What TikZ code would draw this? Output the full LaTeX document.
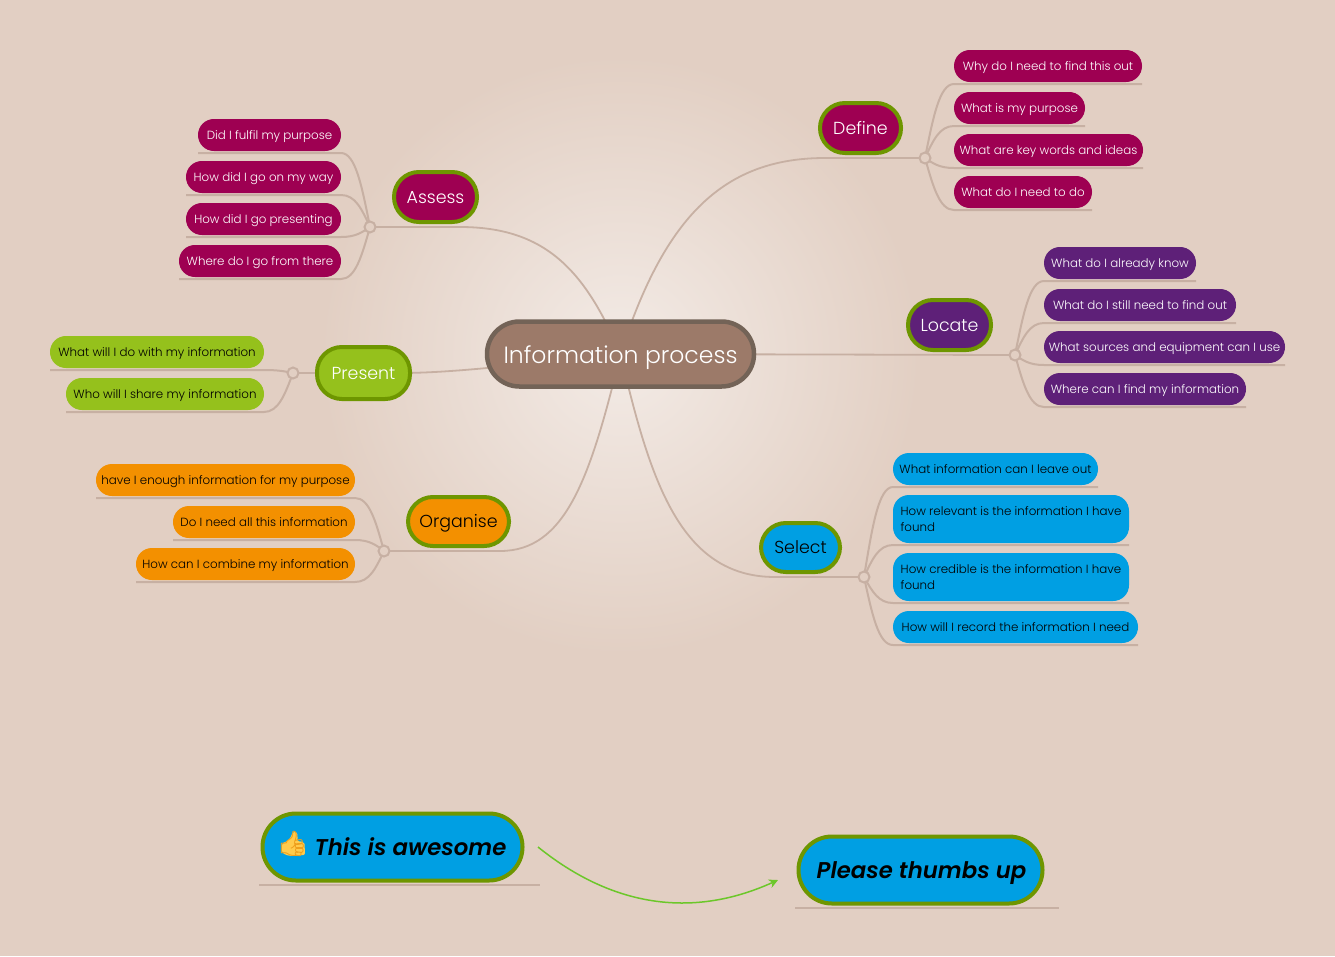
\documentclass[tikz,border=0pt]{standalone}
\usepackage{fontspec}
\setmainfont{Poppins}[UprightFont=*-Light,BoldFont=*-SemiBold,ItalicFont=*-LightItalic,BoldItalicFont=*-SemiBoldItalic]
\newfontfamily\emojifont{Noto Emoji}
\usetikzlibrary{backgrounds,arrows.meta,calc}
\definecolor{bgc}{HTML}{E2CFC3}
\definecolor{glow}{HTML}{F3EBE6}
\definecolor{wire}{HTML}{C7B0A3}
\definecolor{crim}{HTML}{9E0052}
\definecolor{purp}{HTML}{5E2078}
\definecolor{blu}{HTML}{009FE3}
\definecolor{grn}{HTML}{95C11C}
\definecolor{org}{HTML}{F39000}
\definecolor{ctr}{HTML}{9C7A69}
\definecolor{ctrb}{HTML}{736357}
\definecolor{olive}{HTML}{6E9600}
\definecolor{arrowg}{HTML}{6CC72A}
\definecolor{thumb}{HTML}{FFCB4C}
\definecolor{thumbline}{HTML}{EE9F1C}
\tikzset{
  x=1pt,y=-1pt,
  leafbox/.style={rectangle,rounded corners=15.9pt,outer sep=0pt,inner sep=0pt,font=\fontsize{11.85}{16}\selectfont,align=left,text height=9.4pt,text depth=0pt},
  multi/.style={text height=,text depth=},
  mainbox/.style={rectangle,rounded corners=24.9pt,outer sep=0pt,inner sep=0pt,draw=olive,line width=4pt,font=\fontsize{17.4}{22}\selectfont,text height=12.5pt,text depth=0pt},
  bigbox/.style={rectangle,rounded corners=33.4pt,draw=olive,line width=4pt,fill=blu,text=black,outer sep=0pt,inner sep=0pt,minimum height=67pt,font=\fontsize{22.8}{30}\selectfont\bfseries\itshape,text height=17pt,text depth=0pt},
  junction/.style={circle,draw=wire,fill=bgc,line width=2pt,minimum size=11pt,inner sep=0pt,outer sep=0pt},
  wireline/.style={draw=wire,line width=2pt},
  hubwire/.style={draw=wire,line width=1.8pt}
}
% name x1 y1 x2 y2 fill textcolour text
\newcommand{\leafnode}[8]{%
  \pgfmathsetmacro{\bw}{#4-#2}\pgfmathsetmacro{\bh}{#5-#3}%
  \node[leafbox,fill=#6,text=#7,minimum width=\bw pt,minimum height=\bh pt] (#1) at ({(#2+#4)/2},{(#3+#5)/2}) {#8};
  \coordinate (#1-a) at (#2,#5+2);
  \coordinate (#1-b) at (#4,#5+2);}
\newcommand{\mainnode}[8]{%
  \pgfmathsetmacro{\bw}{#4-#2}\pgfmathsetmacro{\bh}{#5-#3}%
  \node[mainbox,fill=#6,text=#7,minimum width=\bw pt,minimum height=\bh pt] (#1) at ({(#2+#4)/2},{(#3+#5)/2}) {#8};}
% junction, leaf end near, leaf end far
\newcommand{\twig}[3]{%
  \draw[wireline] let \p1=(#1.center),\p2=(#2) in
    (#1.center) .. controls ({\x1+0.28*(\x2-\x1)},{\y1+0.55*(\y2-\y1)}) and ({\x1+0.5*(\x2-\x1)},\y2) .. (#2) -- (#3);}
\begin{document}
\begin{tikzpicture}
\useasboundingbox (0,0) rectangle (1335,956);
% leaves
\leafnode{d1}{954}{50}{1142}{82}{crim}{white}{Why do I need to find this out}
\leafnode{d2}{954}{92}{1085}{124}{crim}{white}{What is my purpose}
\leafnode{d3}{954}{134}{1143}{166}{crim}{white}{What are key words and ideas}
\leafnode{d4}{954}{176}{1092}{208}{crim}{white}{What do I need to do}
\leafnode{l1}{1044}{247}{1196}{279}{purp}{white}{What do I already know}
\leafnode{l2}{1044}{289}{1236}{321}{purp}{white}{What do I still need to find out}
\leafnode{l3}{1044}{331}{1285}{363}{purp}{white}{What sources and equipment can I use}
\leafnode{l4}{1044}{373}{1246}{405}{purp}{white}{Where can I find my information}
\leafnode{s1}{893}{453}{1098}{485}{blu}{black}{What information can I leave out}
\leafnode{s2}{893}{495}{1129}{543}{blu}{black,multi}{How relevant is the information I have\\found}
\leafnode{s3}{893}{553}{1129}{601}{blu}{black,multi}{How credible is the information I have\\found}
\leafnode{s4}{893}{611}{1138}{643}{blu}{black}{How will I record the information I need}
\leafnode{a1}{198}{119}{341}{151}{crim}{white}{Did I fulfil my purpose}
\leafnode{a2}{186}{161}{341}{193}{crim}{white}{How did I go on my way}
\leafnode{a3}{186}{203}{341}{235}{crim}{white}{How did I go presenting}
\leafnode{a4}{179}{245}{341}{277}{crim}{white}{Where do I go from there}
\leafnode{p1}{50}{336}{264}{368}{grn}{black}{What will I do with my information}
\leafnode{p2}{66}{378}{264}{410}{grn}{black}{Who will I share my information}
\leafnode{o1}{96}{464}{355}{496}{org}{black}{have I enough information for my purpose}
\leafnode{o2}{173}{506}{355}{538}{org}{black}{Do I need all this information}
\leafnode{o3}{136}{548}{355}{580}{org}{black}{How can I combine my information}
% main topics
\mainnode{define}{820}{103}{901}{153}{crim}{white}{Define}
\mainnode{assess}{394}{172}{477}{222}{crim}{white}{Assess}
\mainnode{locate}{908}{300}{991}{350}{purp}{white}{Locate}
\mainnode{present}{317}{347}{410}{399}{grn}{white}{Present}
\mainnode{organise}{408}{497}{509}{546}{org}{black}{Organise}
\mainnode{select}{761}{523}{840}{572}{blu}{black}{Select}
\node[rectangle,rounded corners=32.4pt,draw=ctrb,line width=4.5pt,fill=ctr,text=white,outer sep=0pt,inner sep=0pt,minimum width=267pt,minimum height=65pt,font=\fontsize{23.5}{28}\selectfont,text height=18pt,text depth=0pt] (center) at (620.5,354) {Information process};
% junctions
\node[junction] (jd) at (925,158) {};
\node[junction] (jl) at (1015,355) {};
\node[junction] (js) at (864,577) {};
\node[junction] (ja) at (370,227) {};
\node[junction] (jp) at (293,373) {};
\node[junction] (jo) at (384,551) {};
% bottom pair
\node[bigbox,minimum width=260pt] (awesome) at (392.5,847) {\hspace{36pt}This is awesome\hspace{4pt}};
\fill[thumb,rounded corners=2pt] (282,843) -- (288,841) -- (292,835) -- (292.5,832) -- (296,831) -- (298,836) -- (297,841) -- (304.5,842) -- (305,855) -- (289,856) -- (282,853) -- cycle;
\node[font=\emojifont\fontsize{25}{30}\selectfont,text=thumbline,inner sep=0pt] (thumbicon) at (292.5,843.5) {\symbol{"1F44D}};
\node[bigbox,minimum width=244pt] (thumbs) at (920.5,870) {\hspace{2pt}Please thumbs up};
\coordinate (arrS) at (538,847);
\coordinate (arrE) at (778,880);
\coordinate (ua-a) at (259,885);
\coordinate (ua-b) at (540,885);
\coordinate (ut-a) at (795,908);
\coordinate (ut-b) at (1059,908);
\begin{scope}[on background layer]
  \fill[bgc] (0,0) rectangle (1335,956);
  \shade[inner color=glow,outer color=bgc] (620,355) circle (300);
  % hub wires
  \draw[hubwire] (center.center) .. controls (665,215) and (725,158) .. (825,158) -- (jd.center);
  \draw[hubwire] (center.center) -- (1015,355) -- (jl.center);
  \draw[hubwire] (center.center) .. controls (650,480) and (680,577) .. (775,577) -- (js.center);
  \draw[hubwire] (center.center) .. controls (585,270) and (545,227) .. (460,227) -- (ja.center);
  \draw[hubwire] (center.center) .. controls (540,362) and (460,373) .. (400,373) -- (jp.center);
  \draw[hubwire] (center.center) .. controls (590,480) and (565,551) .. (500,551) -- (jo.center);
  % twigs
  \twig{jd}{d1-a}{d1-b}\twig{jd}{d2-a}{d2-b}\twig{jd}{d3-a}{d3-b}\twig{jd}{d4-a}{d4-b}
  \twig{jl}{l1-a}{l1-b}\twig{jl}{l2-a}{l2-b}\twig{jl}{l3-a}{l3-b}\twig{jl}{l4-a}{l4-b}
  \twig{js}{s1-a}{s1-b}\twig{js}{s2-a}{s2-b}\twig{js}{s3-a}{s3-b}\twig{js}{s4-a}{s4-b}
  \twig{ja}{a1-b}{a1-a}\twig{ja}{a2-b}{a2-a}\twig{ja}{a3-b}{a3-a}\twig{ja}{a4-b}{a4-a}
  \twig{jp}{p1-b}{p1-a}\twig{jp}{p2-b}{p2-a}
  \twig{jo}{o1-b}{o1-a}\twig{jo}{o2-b}{o2-a}\twig{jo}{o3-b}{o3-a}
  \draw[wireline] (ua-a) -- (ua-b);
  \draw[wireline] (ut-a) -- (ut-b);
\end{scope}
\draw[arrowg,line width=1.5pt,-{Stealth[length=9pt,width=9pt]}] (arrS) .. controls (610,905) and (690,920) .. (arrE);
\end{tikzpicture}
\end{document}
